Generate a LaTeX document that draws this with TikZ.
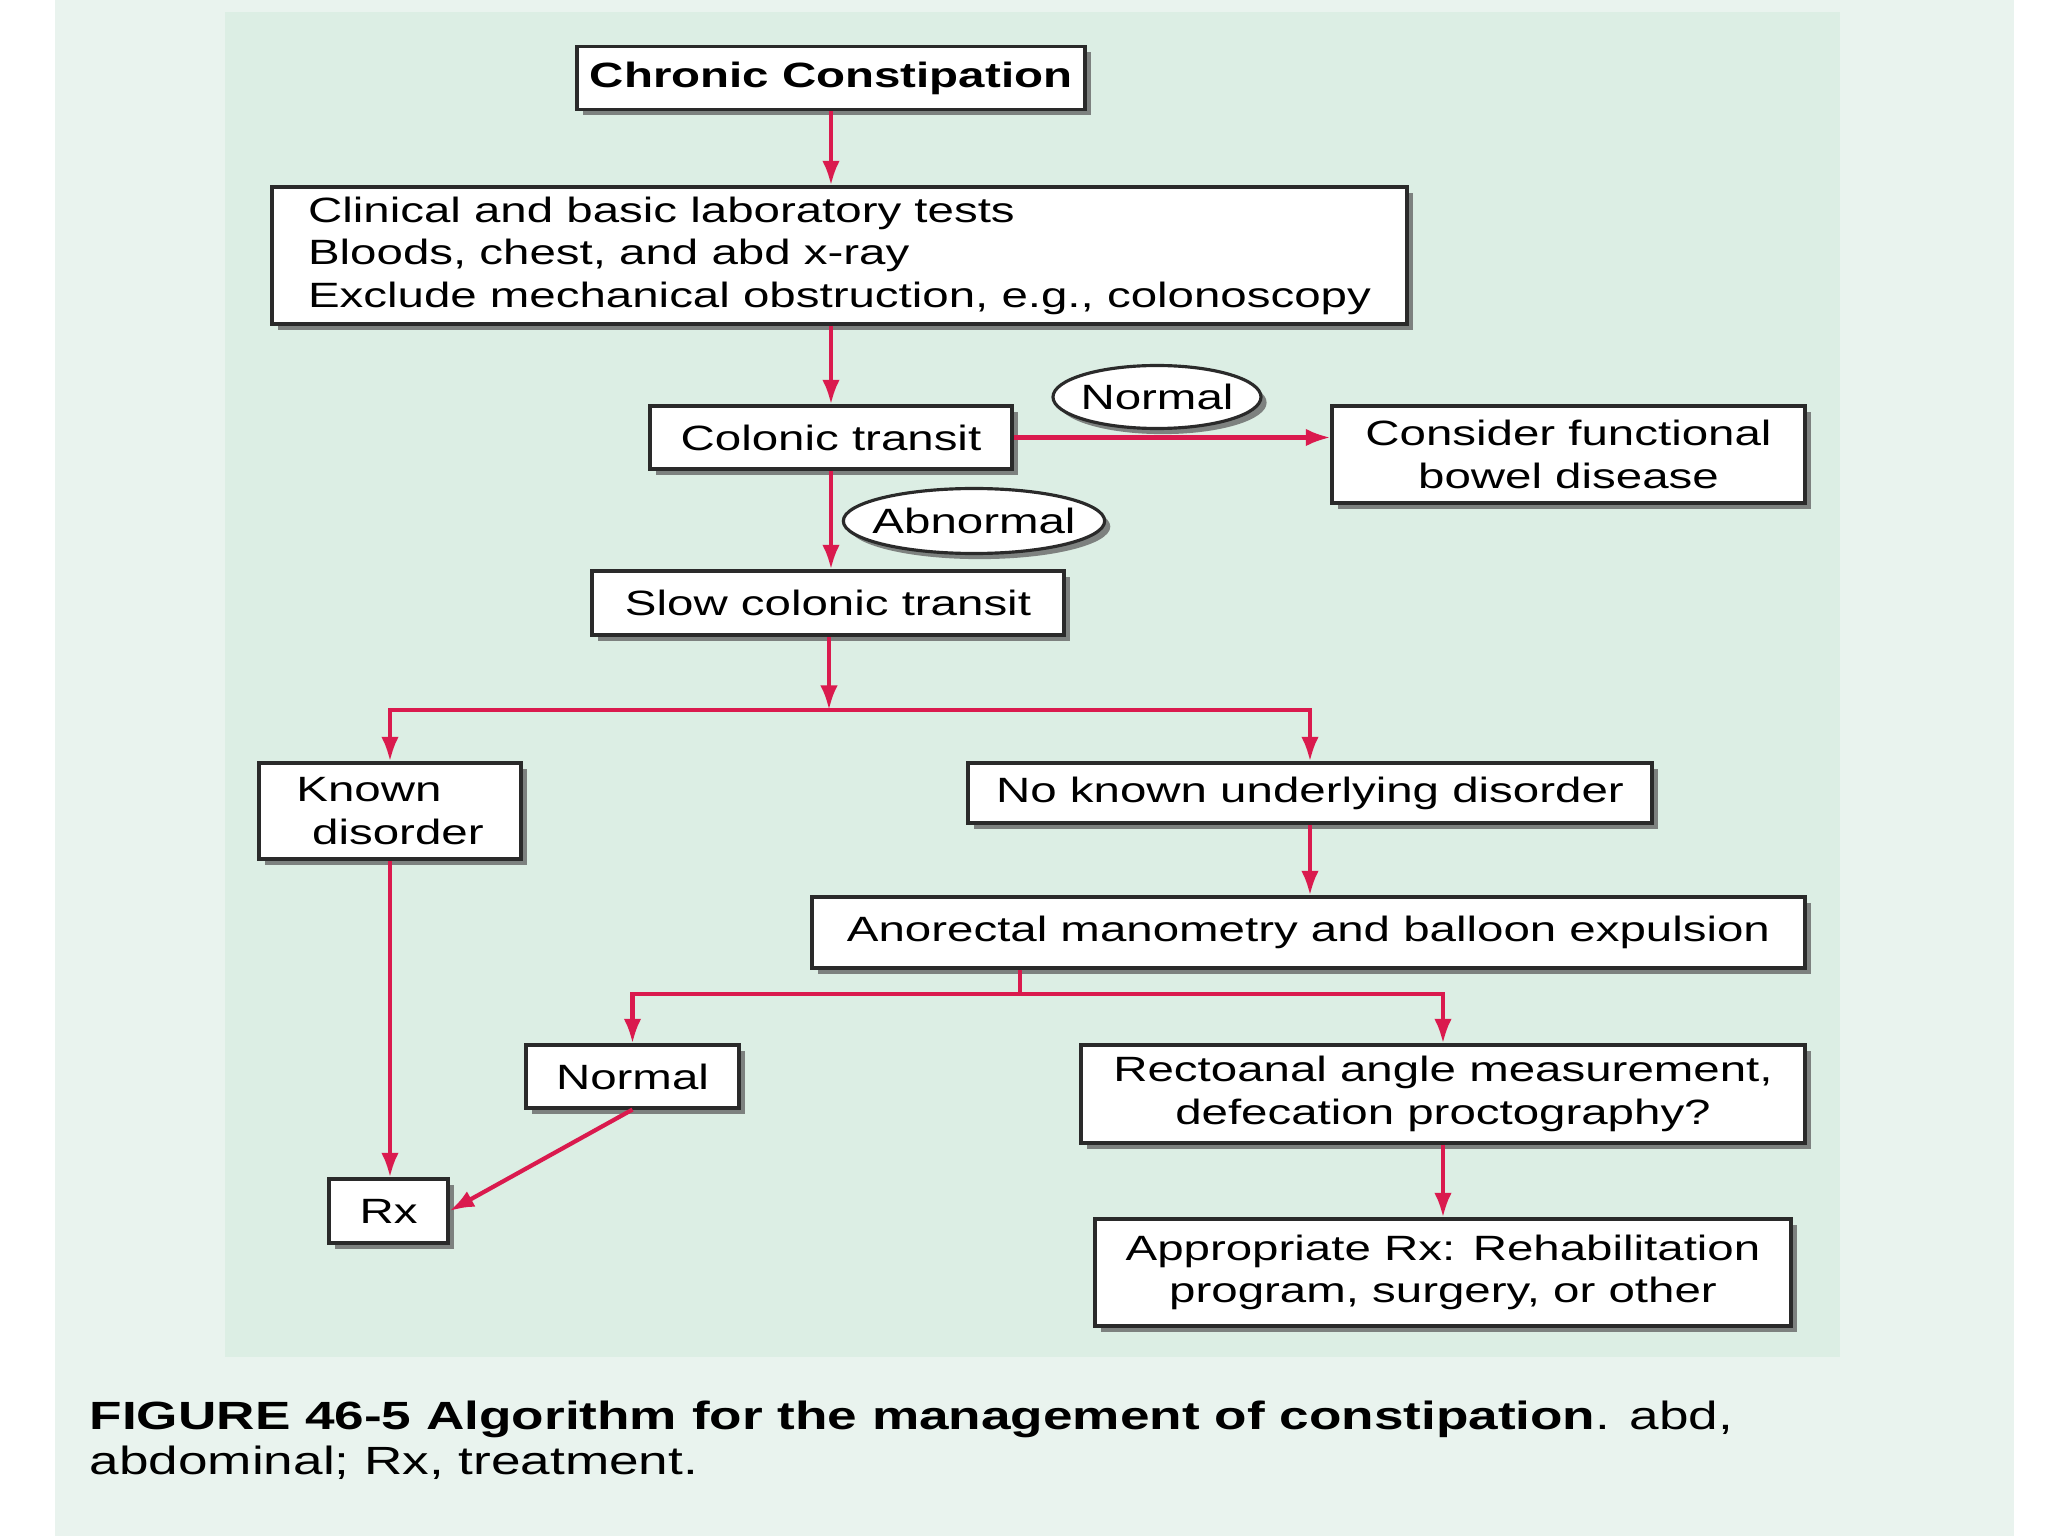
\documentclass[tikz,border=0pt]{standalone}
\usepackage{fontspec}
\setmainfont{Liberation Sans}[FakeStretch=1.35]
\usetikzlibrary{shapes.geometric,shadows,arrows.meta}
\definecolor{pagemint}{HTML}{E9F3EE}
\definecolor{panelmint}{HTML}{DCEEE4}
\definecolor{flowred}{HTML}{DA1A4E}
\definecolor{boxline}{HTML}{2A2A2A}

\begin{document}
\begin{tikzpicture}[
        box/.style={draw=boxline, line width=0.9pt, fill=white, inner sep=0pt,
            font=\fontsize{10}{12.1}\selectfont,
            drop shadow={shadow xshift=1.6pt, shadow yshift=-1.6pt, fill=black!60, opacity=0.8}},
        oval/.style={box, ellipse, inner xsep=-2.6pt},
        flow/.style={draw=flowred, line width=1.2pt},
        arr/.style={flow, -{Latex[length=7pt,width=5pt]}}
    ]
    \useasboundingbox (0,0) rectangle (20.48,-15.36);
    \fill[white] (0,0) rectangle (20.48,-15.36);
    \fill[pagemint] (0.55,0) rectangle (20.14,-15.36);
    \fill[panelmint] (2.25,-0.12) rectangle (18.40,-13.57);

    \node[box, minimum width=5.08cm, minimum height=0.63cm, font=\fontsize{10}{12.1}\selectfont\bfseries] (chronic) at (8.31,-0.78) {Chronic Constipation};
    \node[box, minimum width=11.35cm, minimum height=1.37cm, align=left] (clinical) at (8.395,-2.555) {Clinical and basic laboratory tests\\Bloods, chest, and abd x-ray\\Exclude mechanical obstruction, e.g., colonoscopy};
    \node[box, minimum width=3.62cm, minimum height=0.63cm] (colonic) at (8.31,-4.375) {Colonic transit};
    \node[oval, minimum width=2.08cm, minimum height=0.63cm] (normalA) at (11.57,-3.97) {Normal};
    \node[box, minimum width=4.73cm, minimum height=0.97cm, align=center] (functional) at (15.685,-4.545) {Consider functional\\bowel disease};
    \node[oval, minimum width=2.51cm, minimum height=0.65cm] (abnormal) at (9.74,-5.21) {Abnormal};
    \node[box, minimum width=4.72cm, minimum height=0.64cm] (slow) at (8.28,-6.03) {Slow colonic transit};
    \node[box, minimum width=2.62cm, minimum height=0.96cm, align=left] (known) at (3.90,-8.11) {Known\\\hspace*{0.45em}disorder};
    \node[box, minimum width=6.84cm, minimum height=0.60cm] (noknown) at (13.10,-7.93) {No known underlying disorder};
    \node[box, minimum width=9.93cm, minimum height=0.71cm] (anorectal) at (13.085,-9.325) {Anorectal manometry and balloon expulsion};
    \node[box, minimum width=2.13cm, minimum height=0.63cm] (normalB) at (6.325,-10.765) {Normal};
    \node[box, minimum width=7.24cm, minimum height=0.98cm, align=center] (rectoanal) at (14.43,-10.94) {Rectoanal angle measurement,\\defecation proctography?};
    \node[box, minimum width=1.19cm, minimum height=0.64cm] (rx) at (3.885,-12.11) {Rx};
    \node[box, minimum width=6.96cm, minimum height=1.07cm, align=center] (appropriate) at (14.43,-12.725) {Appropriate Rx: Rehabilitation\\program, surgery, or other};

    % split points
    \coordinate (split1) at (8.29,-7.10);
    \coordinate (split2) at (10.20,-9.94);

    \draw[arr] (chronic.south) -- (chronic.south |- clinical.north);
    \draw[arr] (chronic.south |- clinical.south) -- (colonic.north);
    \draw[arr] (colonic.east) -- (colonic.east -| functional.west);
    \draw[arr] (colonic.south) -- (colonic.south |- slow.north);
    \draw[arr] (slow.south -| split1) -- (split1);
    \draw[arr] (split1) -| (known);
    \draw[arr] (split1) -| (noknown);
    \draw[arr] (noknown.south) -- (noknown.south |- anorectal.north);
    \draw[flow] (anorectal.south -| split2) -- (split2);
    \draw[arr] (split2) -| (normalB);
    \draw[arr] (split2) -| (rectoanal);
    \draw[arr] (rectoanal) -- (appropriate);
    \draw[arr] (known.south) -- (known.south |- rx.north);
    \draw[arr] (normalB.south) -- (rx.east);

    \node[anchor=north west, align=left, inner sep=0pt, font=\fontsize{11.2}{12.8}\selectfont] (caption) at (0.89,-14.00) {\textbf{FIGURE 46-5 Algorithm for the management of constipation}. abd,\\abdominal; Rx, treatment.};
\end{tikzpicture}
\end{document}
